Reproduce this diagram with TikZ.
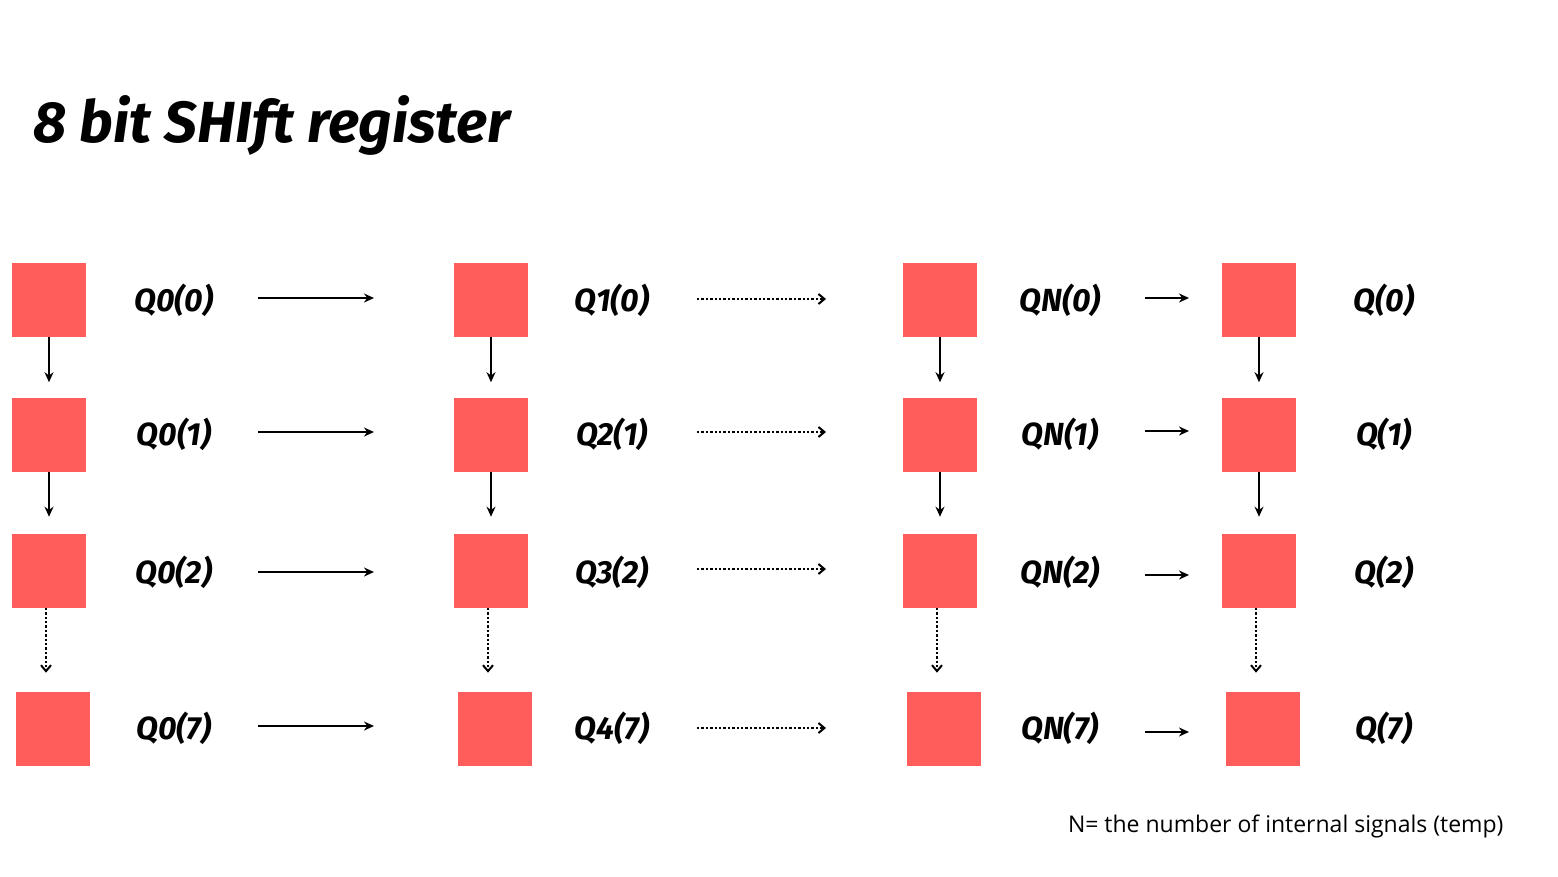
\documentclass[tikz,border=0pt]{standalone}
\usepackage{fontspec}
\setmainfont{Fira Sans}
\newfontfamily\notefont{Open Sans}
\usetikzlibrary{arrows.meta}
\definecolor{boxred}{HTML}{FF5C5C}
\begin{document}
\begin{tikzpicture}[x=1pt,y=-1pt,
  sq/.style={fill=boxred,draw=none,minimum size=74pt,inner sep=0pt},
  lab/.style={font=\fontsize{32}{36}\selectfont\bfseries\itshape},
  arr/.style={line width=2.6pt,-{Stealth[length=10pt,width=9pt]}},
  darr/.style={line width=2.4pt,dotted,-{Straight Barb[length=6pt,width=10pt,line width=2pt]}}]
\useasboundingbox (0,0) rectangle (1558,876);
\node[anchor=west,font=\fontsize{58}{64}\selectfont\bfseries\itshape] (title) at (30,125) {8 bit SHIft register};
% columns: square centre x for rows 0-2, and row 7
\foreach \n/\cx/\cxl in {a/49/53, b/491/495, c/940/944, d/1259/1263}{
  \node[sq] (\n0) at (\cx,300) {};
  \node[sq] (\n1) at (\cx,434.5) {};
  \node[sq] (\n2) at (\cx,570.5) {};
  \node[sq] (\n7) at (\cxl,728.5) {};
  \draw[arr] (\n0.south) -- ++(0,45) coordinate (\n0e);
  \draw[arr] (\n1.south) -- ++(0,45) coordinate (\n1e);
  \draw[darr] ([xshift=-3pt]\n2.south) -- ++(0,65) coordinate (\n2e);
}
\node[lab] (la0) at (174,300) {Q0(0)};
\node[lab] (la1) at (174,434) {Q0(1)};
\node[lab] (la2) at (174,572) {Q0(2)};
\node[lab] (la7) at (174,728) {Q0(7)};
\node[lab] (lb0) at (612,300) {Q1(0)};
\node[lab] (lb1) at (612,434) {Q2(1)};
\node[lab] (lb2) at (612,572) {Q3(2)};
\node[lab] (lb7) at (612,728) {Q4(7)};
\node[lab] (lc0) at (1060,300) {QN(0)};
\node[lab] (lc1) at (1060,434) {QN(1)};
\node[lab] (lc2) at (1060,572) {QN(2)};
\node[lab] (lc7) at (1060,728) {QN(7)};
\node[lab] (ld0) at (1384,300) {Q(0)};
\node[lab] (ld1) at (1384,434) {Q(1)};
\node[lab] (ld2) at (1384,572) {Q(2)};
\node[lab] (ld7) at (1384,728) {Q(7)};
\foreach \y/\r in {298/0,432/1,572/2,726/7}{
  \coordinate (s\r) at (258,\y); \coordinate (e\r) at (374,\y);
  \draw[arr] (s\r) -- (e\r);}
\foreach \y/\r in {299/0,432/1,569/2,728/7}{
  \coordinate (ds\r) at (697,\y); \coordinate (de\r) at (826,\y);
  \draw[darr] (ds\r) -- (de\r);}
\foreach \y/\r in {298/0,431/1,575/2,732/7}{
  \coordinate (ss\r) at (1145,\y); \coordinate (se\r) at (1189,\y);
  \draw[arr] (ss\r) -- (se\r);}
\node[anchor=east,font=\notefont\fontsize{23}{26}\selectfont] (note) at (1507,826) {N= the number of internal signals (temp)};
\end{tikzpicture}
\end{document}
